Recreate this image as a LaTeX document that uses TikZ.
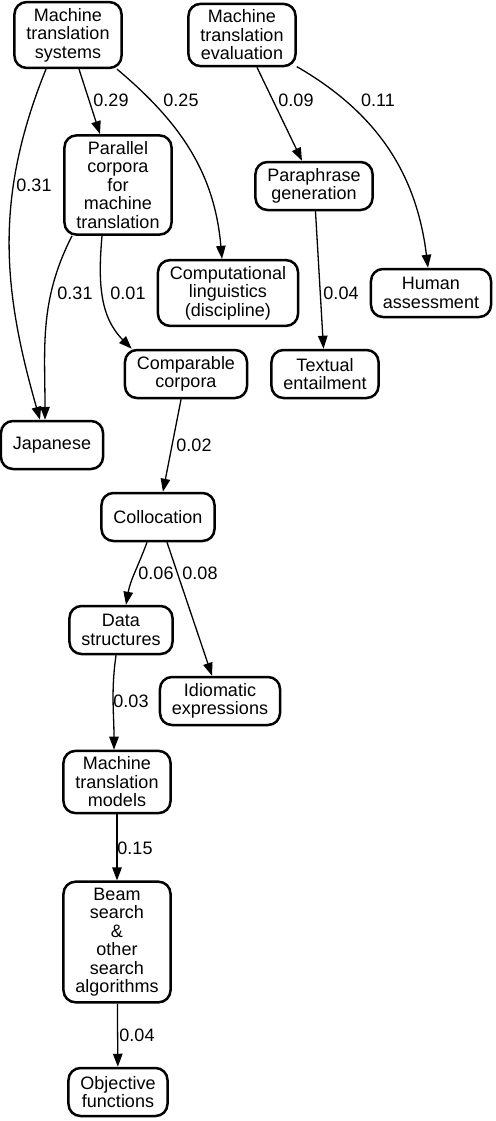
\documentclass[tikz,border=0pt]{standalone}
\usepackage{fontspec}
\setmainfont{Liberation Sans}
\usetikzlibrary{arrows.meta}

\begin{document}
\begin{tikzpicture}[x=1pt, y=1pt,
    topic/.style={draw, line width=2.5pt, rounded corners=12pt, align=center, inner xsep=12pt, inner ysep=6pt, minimum height=48pt, font=\fontsize{18}{18.5}\selectfont},
    wt/.style={inner sep=0pt, font=\fontsize{18}{18.5}\selectfont},
    link/.style={line width=1.3pt, -{Triangle[length=13pt,width=9.5pt]}}]
      \useasboundingbox (0,0) rectangle (495,-1121);
      \node[topic] (mts) at (68,-35) {Machine\\translation\\systems};
      \node[topic] (mte) at (242,-35) {Machine\\translation\\evaluation};
      \node[topic] (par) at (118,-185) {Parallel\\corpora\\for\\machine\\translation};
      \node[topic] (para) at (314,-186) {Paraphrase\\generation};
      \node[topic] (comp) at (228,-293) {Computational\\linguistics\\(discipline)};
      \node[topic] (hum) at (431,-293) {Human\\assessment};
      \node[topic] (cmp) at (186,-374) {Comparable\\corpora};
      \node[topic] (tex) at (325,-374) {Textual\\entailment};
      \node[topic] (jap) at (52,-445) {Japanese};
      \node[topic] (col) at (158,-517) {Collocation};
      \node[topic] (data) at (121,-630) {Data\\structures};
      \node[topic] (idi) at (220,-701) {Idiomatic\\expressions};
      \node[topic] (mtm) at (117,-782) {Machine\\translation\\models};
      \node[topic] (beam) at (117,-942) {Beam\\search\\\&\\other\\search\\algorithms};
      \node[topic] (obj) at (118,-1092) {Objective\\functions};
      \draw[link] ([xshift=-22pt]mts.south) to[out=248,in=106] ([xshift=-12pt]jap.north);
      \draw[link] ([xshift=11pt]mts.south) -- ([xshift=-18pt]par.north);
      \draw[link] ([xshift=49pt]mts.south) to[out=320,in=95] ([xshift=-6pt]comp.north);
      \draw[link] ([xshift=15pt]mte.south) -- ([xshift=-12pt]para.north);
      \draw[link] (mte.330) to[out=330,in=97] ([xshift=-3pt]hum.north);
      \draw[link] ([xshift=-46pt]par.south) to[out=243,in=90] ([xshift=-7pt]jap.north);
      \draw[link] ([xshift=-16pt]par.south) to[out=265,in=135] ([xshift=8pt]cmp.north west);
      \draw[link] (para) -- (tex);
      \draw[link] (cmp) -- (col);
      \draw[link] ([xshift=-11pt]col.south) to[out=250,in=80] ([xshift=5pt]data.north);
      \draw[link] ([xshift=9pt]col.south) -- ([xshift=-8pt]idi.north);
      \draw[link] ([xshift=-5pt]data.south) to[out=262,in=90] ([xshift=-3pt]mtm.north);
      \draw[link] (mtm) -- (beam);
      \draw[link] (beam) -- (obj);
      \node[wt] (w1) at (34,-185) {0.31};
      \node[wt] (w2) at (111,-100) {0.29};
      \node[wt] (w3) at (181,-100) {0.25};
      \node[wt] (w4) at (296,-100) {0.09};
      \node[wt] (w5) at (378,-100) {0.11};
      \node[wt] (w6) at (75,-293) {0.31};
      \node[wt] (w7) at (128,-293) {0.01};
      \node[wt] (w8) at (341,-293) {0.04};
      \node[wt] (w9) at (194,-445) {0.02};
      \node[wt] (w10) at (156,-573) {0.06};
      \node[wt] (w11) at (200,-573) {0.08};
      \node[wt] (w12) at (131,-701) {0.03};
      \node[wt] (w13) at (135,-848) {0.15};
      \node[wt] (w14) at (137,-1035) {0.04};
\end{tikzpicture}
\end{document}
